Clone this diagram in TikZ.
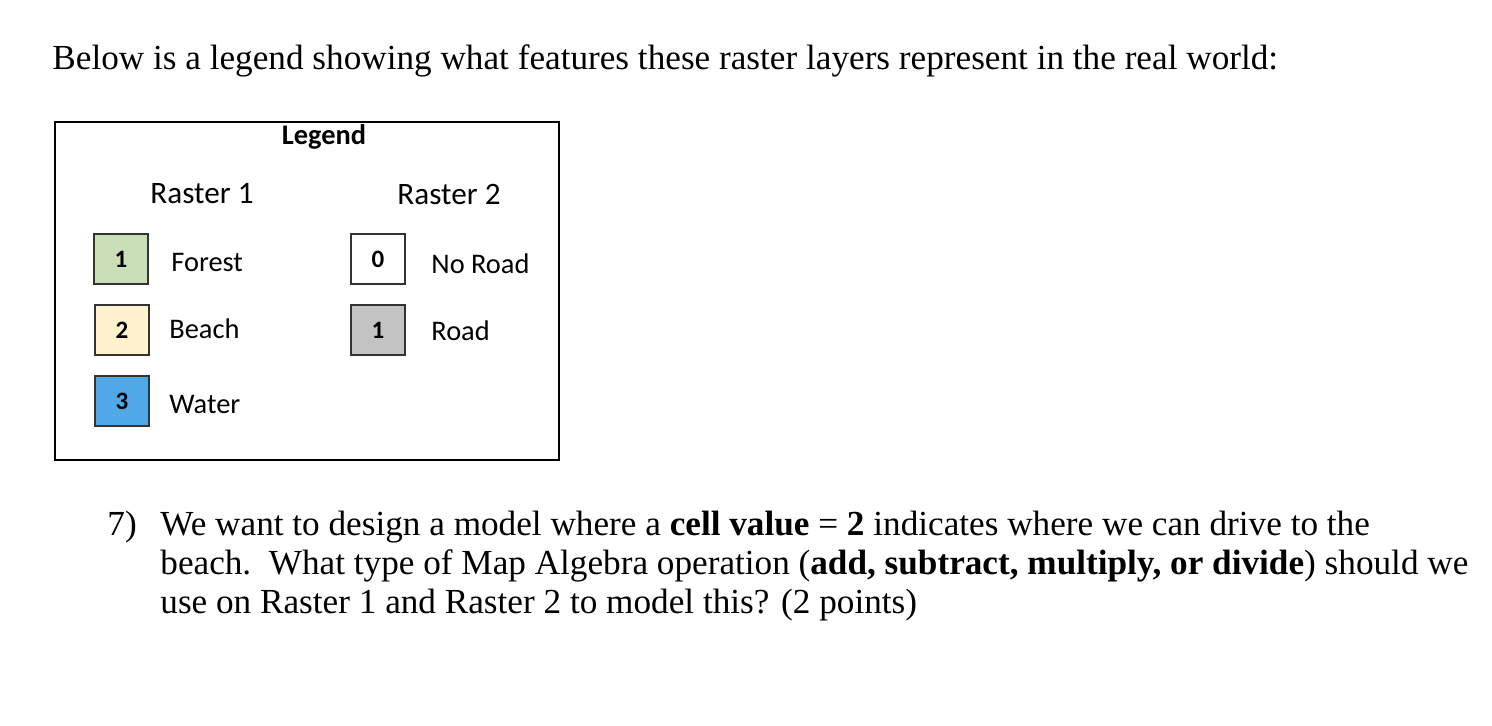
\documentclass[tikz,border=0pt]{standalone}
\usepackage{fontspec}
\setmainfont{Liberation Serif}
\newfontfamily\calfnt{Carlito}
\definecolor{cgreen}{HTML}{CADFB8}
\definecolor{cbeige}{HTML}{FFF2CC}
\definecolor{cblue}{HTML}{4FA9E6}
\definecolor{cgray}{HTML}{C3C3C3}
\begin{document}
\begin{tikzpicture}[x=0.5pt,y=-0.5pt,
  cell/.style={draw=black!80,line width=0.6pt,minimum width=27pt,minimum height=25pt,inner sep=0pt,font=\calfnt\bfseries\fontsize{12.5}{14}\selectfont},
  lab/.style={anchor=west,inner sep=0pt,font=\calfnt\fontsize{14.2}{16}\selectfont},
  body/.style={anchor=base west,inner sep=0pt,font=\fontsize{17.6}{20}\selectfont}]
\useasboundingbox (0,0) rectangle (1492,726);
\node[body] (t0) at (52,70) {Below is a legend showing what features these raster layers represent in the real world:};
\draw[line width=0.7pt] (55,122) rectangle (559,460);
\node[inner sep=0pt,font=\calfnt\bfseries\fontsize{14.2}{16}\selectfont] (lg) at (324,137) {Legend};
\node[inner sep=0pt,font=\calfnt\fontsize{15.6}{18}\selectfont] (r1) at (202,194) {Raster 1};
\node[inner sep=0pt,font=\calfnt\fontsize{15.6}{18}\selectfont] (r2) at (449,194) {Raster 2};
\node[cell,fill=cgreen] (c1) at (121,259) {1};
\node[cell,fill=cbeige] (c2) at (122,330) {2};
\node[cell,fill=cblue] (c3) at (122,401) {3};
\node[cell,fill=white] (d0) at (378,259) {0};
\node[cell,fill=cgray] (d1) at (378,330) {1};
\node[lab] (l1) at (171,262) {Forest};
\node[lab] (l2) at (169,329) {Beach};
\node[lab] (l3) at (169,404) {Water};
\node[lab] (m0) at (431,264) {No Road};
\node[lab] (m1) at (431,331) {Road};
\node[body] (q) at (107,535) {7)};
\node[body] (q1) at (160,535) {We want to design a model where a \textbf{cell value} = \textbf{2} indicates where we can drive to the};
\node[body] (q2) at (160,574) {beach.\ \ What type of Map Algebra operation (\textbf{add, subtract, multiply, or divide}) should we};
\node[body] (q3) at (160,613) {use on Raster 1 and Raster 2 to model this? (2 points)};
\end{tikzpicture}
\end{document}
